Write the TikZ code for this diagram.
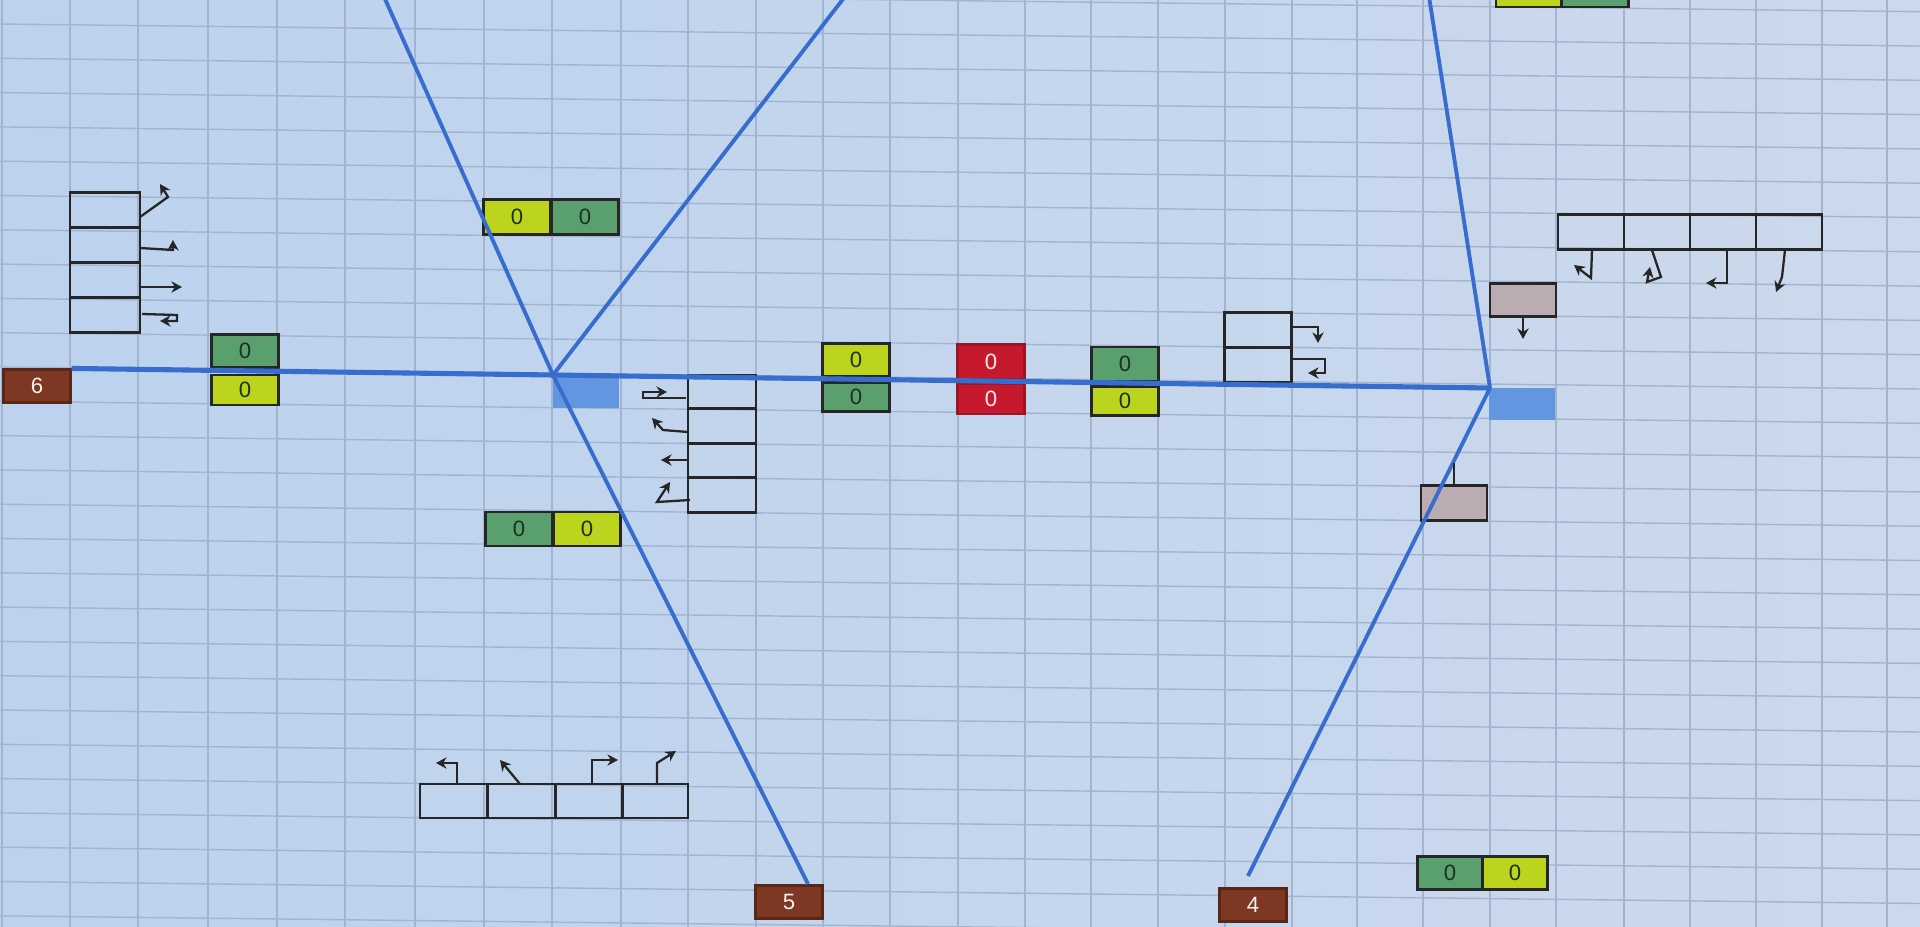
\documentclass[tikz,border=0pt]{standalone}
\usepackage{fontspec}
\setmainfont{Liberation Sans}
\usetikzlibrary{arrows.meta}
\definecolor{bgL}{RGB}{188,210,238}
\definecolor{bgR}{RGB}{204,217,236}
\definecolor{gridc}{RGB}{162,180,208}
\definecolor{lineblue}{RGB}{55,110,205}
\definecolor{brownb}{RGB}{125,55,35}
\definecolor{greenb}{RGB}{90,160,110}
\definecolor{yellowb}{RGB}{188,212,30}
\definecolor{redb}{RGB}{198,25,45}
\definecolor{greyb}{RGB}{186,172,178}
\definecolor{cellblue}{RGB}{98,150,225}
\definecolor{numc}{RGB}{28,48,30}
\tikzset{
  gridl/.style={draw=gridc, line width=0.4pt},
  cell/.style={draw=black!85, line width=0.6pt, inner sep=0pt,
    minimum width=0.67cm, minimum height=0.33cm,
    font=\fontsize{6.3}{7}\selectfont, text=numc},
  gcell/.style={cell, fill=greenb},
  ycell/.style={cell, fill=yellowb},
  rcell/.style={cell, fill=redb, draw=redb!80!black, text=white!92!red},
  bcell/.style={cell, fill=brownb, draw=brownb!70!black, text=white!90!brown},
  greycell/.style={cell, fill=greyb},
  bluecell/.style={inner sep=0pt, fill=cellblue, minimum width=0.66cm, minimum height=0.32cm},
  ecell/.style={cell},
  mainline/.style={draw=lineblue, line width=1.45pt},
  diag/.style={draw=lineblue, line width=1.1pt},
  arr/.style={draw=black!85, line width=0.65pt, -{Stealth[length=3pt,width=3.2pt]}},
  plain/.style={draw=black!85, line width=0.65pt}
}
\begin{document}
\begin{tikzpicture}[x=0.01cm,y=-0.01cm]
\useasboundingbox (0,0) rectangle (1920,927);
\clip (0,0) rectangle (1920,927);
\shade[left color=bgL, right color=bgR] (0,0) rectangle (1920,927);
% spreadsheet grid
\foreach \x in {2,70,138,208,277,345,415,484,552,621,688,756,823,890,958,1025,1091,1158,1225,1292,1357,1423,1490,1556,1624,1690,1756,1822,1887}
  \draw[gridl] (\x,0) -- (\x,927);
\foreach \k in {-12,...,16}
  \draw[gridl] (0,{367+34.3*\k}) -- (1920,{367+34.3*\k+22});

% filled cells under the lines
\node[bluecell] (cL) at (586,392) {};
\node[bluecell] (cR) at (1522,404) {};

% label boxes
\node[bcell, minimum height=0.33cm] (n6) at (37,386) {6};
\node[bcell] (n5) at (789,902) {5};
\node[bcell] (n4) at (1253,905) {4};

% value pairs
\node[gcell] (gA) at (245,351) {0};
\node[ycell, minimum height=0.30cm] (yA) at (245,390) {0};
\node[ycell, minimum height=0.35cm] (yT1) at (517,217) {0};
\node[gcell, minimum height=0.35cm] (gT2) at (585,217) {0};
\node[gcell, minimum height=0.34cm] (gB1) at (519,529) {0};
\node[ycell, minimum height=0.34cm] (yB2) at (587,529) {0};
\node[ycell, minimum height=0.33cm] (yM1) at (856,360) {0};
\node[gcell, minimum height=0.29cm] (gM2) at (856,397) {0};
\node[rcell, minimum height=0.35cm] (rM1) at (991,362) {0};
\node[rcell, minimum height=0.30cm] (rM2) at (991,399) {0};
\node[gcell, minimum height=0.34cm] (gR1) at (1125,364) {0};
\node[ycell, minimum height=0.29cm] (yR2) at (1125,401) {0};
\node[gcell, minimum width=0.65cm] (gD1) at (1450,873) {0};
\node[ycell, minimum width=0.65cm] (yD2) at (1515,873) {0};
\node[ycell, minimum width=0.66cm, minimum height=0.2cm] (yU1) at (1529,-3) {};
\node[gcell, minimum width=0.67cm, minimum height=0.2cm] (gU2) at (1595,-3) {};

% grey boxes
\node[greycell, minimum width=0.66cm] (gy1) at (1523,300) {};
\node[greycell, minimum width=0.66cm, minimum height=0.35cm] (gy2) at (1454,503) {};

% left vertical stack
\node[ecell, minimum width=0.70cm, minimum height=0.35cm] (L1) at (105,210) {};
\node[ecell, minimum width=0.70cm, minimum height=0.35cm] (L2) at (105,245) {};
\node[ecell, minimum width=0.70cm, minimum height=0.35cm] (L3) at (105,280) {};
\node[ecell, minimum width=0.70cm, minimum height=0.35cm] (L4) at (105,315) {};
% middle vertical stack
\node[ecell, minimum width=0.68cm, minimum height=0.34cm] (M1) at (722,392) {};
\node[ecell, minimum width=0.68cm, minimum height=0.35cm] (M2) at (722,426) {};
\node[ecell, minimum width=0.68cm, minimum height=0.34cm] (M3) at (722,461) {};
\node[ecell, minimum width=0.68cm, minimum height=0.35cm] (M4) at (722,495) {};
% bottom horizontal row
\node[ecell, minimum width=0.68cm, minimum height=0.34cm] (B1) at (454,801) {};
\node[ecell, minimum width=0.68cm, minimum height=0.34cm] (B2) at (521,801) {};
\node[ecell, minimum width=0.67cm, minimum height=0.34cm] (B3) at (589,801) {};
\node[ecell, minimum width=0.66cm, minimum height=0.34cm] (B4) at (655,801) {};
% two-box stack
\node[ecell, minimum width=0.67cm, minimum height=0.35cm] (S1) at (1258,330) {};
\node[ecell, minimum width=0.67cm, minimum height=0.34cm] (S2) at (1258,365) {};
% top-right row
\node[ecell, minimum width=0.66cm, minimum height=0.35cm] (T1) at (1591,232) {};
\node[ecell, minimum width=0.66cm, minimum height=0.35cm] (T2) at (1657,232) {};
\node[ecell, minimum width=0.66cm, minimum height=0.35cm] (T3) at (1723,232) {};
\node[ecell, minimum width=0.66cm, minimum height=0.35cm] (T4) at (1789,232) {};

% fishbone lines
\coordinate (JL) at (553,375);
\coordinate (JR) at (1490,388);
\coordinate (eTL) at (381,-10);
\coordinate (eTR) at (850,-10);
\coordinate (eTU) at (1428,-10);
\coordinate (e5) at (808,884);
\coordinate (e4) at (1248,876);
\draw[mainline] (n6.north east) -- (JL) -- (JR);
\draw[diag] (JL) -- (eTL);
\draw[diag] (JL) -- (eTR);
\draw[diag] (JL) -- (e5);
\draw[diag] (JR) -- (eTU);
\draw[diag] (JR) -- (e4);

% small arrows: left stack
\draw[arr] (140,217) -- (168,197) -- (160,184);
\draw[arr] (140,248) -- (173,250) -- (173,240);
\draw[arr] (140,287) -- (182,287);
\draw[arr] (142,314) -- (177,315) -- (177,321) -- (160,321);
% middle stack
\draw[arr] (686,398) -- (643,398) -- (643,392) -- (667,392);
\draw[arr] (688,432) -- (663,430) -- (652,418);
\draw[arr] (688,460) -- (661,460);
\draw[arr] (690,500) -- (657,502) -- (670,482);
% bottom row
\draw[arr] (457,784) -- (457,763) -- (436,763);
\draw[arr] (520,784) -- (500,760);
\draw[arr] (592,784) -- (592,760) -- (618,760);
\draw[arr] (657,784) -- (657,763) -- (676,751);
% two-box stack
\draw[arr] (S1.east |- 0,327) -- (1318,327) -- (1318,343);
\draw[arr] (S2.east |- 0,359) -- (1325,359) -- (1325,373) -- (1308,373);
% grey box
\draw[arr] (gy1.south) -- (1523,339);
\draw[plain] (gy2.north) -- (1454,463);
% top-right row
\draw[arr] (1592,250) -- (1591,278) -- (1574,265);
\draw[arr] (1652,250) -- (1661,277) -- (1647,282) -- (1650,267);
\draw[arr] (1727,250) -- (1727,283) -- (1706,283);
\draw[arr] (1785,250) -- (1782,277) -- (1776,292);
\end{tikzpicture}
\end{document}
